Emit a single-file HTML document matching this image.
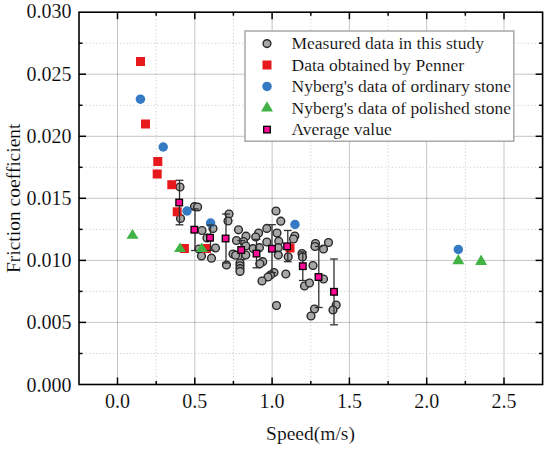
<!DOCTYPE html><html><head><meta charset="utf-8"><style>html,body{margin:0;padding:0;background:#fff;}svg{display:block;}text{font-family:"Liberation Serif",serif;stroke:#fff;stroke-width:0.15px;}</style></head><body>
<svg width="550" height="450" viewBox="0 0 550 450">
<rect width="550" height="450" fill="#fff"/>
<line x1="117.5" y1="12.2" x2="117.5" y2="384.5" stroke="#000" stroke-opacity="0.23" stroke-width="1"/><line x1="194.8" y1="12.2" x2="194.8" y2="384.5" stroke="#000" stroke-opacity="0.23" stroke-width="1"/><line x1="272.1" y1="12.2" x2="272.1" y2="384.5" stroke="#000" stroke-opacity="0.23" stroke-width="1"/><line x1="349.4" y1="12.2" x2="349.4" y2="384.5" stroke="#000" stroke-opacity="0.23" stroke-width="1"/><line x1="426.7" y1="12.2" x2="426.7" y2="384.5" stroke="#000" stroke-opacity="0.23" stroke-width="1"/><line x1="504.0" y1="12.2" x2="504.0" y2="384.5" stroke="#000" stroke-opacity="0.23" stroke-width="1"/><line x1="156.2" y1="12.2" x2="156.2" y2="384.5" stroke="#d0d0d0" stroke-width="1" stroke-dasharray="1.2 2.2"/><line x1="233.4" y1="12.2" x2="233.4" y2="384.5" stroke="#d0d0d0" stroke-width="1" stroke-dasharray="1.2 2.2"/><line x1="310.8" y1="12.2" x2="310.8" y2="384.5" stroke="#d0d0d0" stroke-width="1" stroke-dasharray="1.2 2.2"/><line x1="388.1" y1="12.2" x2="388.1" y2="384.5" stroke="#d0d0d0" stroke-width="1" stroke-dasharray="1.2 2.2"/><line x1="465.3" y1="12.2" x2="465.3" y2="384.5" stroke="#d0d0d0" stroke-width="1" stroke-dasharray="1.2 2.2"/><line x1="542.6" y1="12.2" x2="542.6" y2="384.5" stroke="#d0d0d0" stroke-width="1" stroke-dasharray="1.2 2.2"/><line x1="79.0" y1="322.4" x2="542.6" y2="322.4" stroke="#000" stroke-opacity="0.23" stroke-width="1"/><line x1="79.0" y1="260.4" x2="542.6" y2="260.4" stroke="#000" stroke-opacity="0.23" stroke-width="1"/><line x1="79.0" y1="198.3" x2="542.6" y2="198.3" stroke="#000" stroke-opacity="0.23" stroke-width="1"/><line x1="79.0" y1="136.3" x2="542.6" y2="136.3" stroke="#000" stroke-opacity="0.23" stroke-width="1"/><line x1="79.0" y1="74.2" x2="542.6" y2="74.2" stroke="#000" stroke-opacity="0.23" stroke-width="1"/><line x1="79.0" y1="353.5" x2="542.6" y2="353.5" stroke="#d0d0d0" stroke-width="1" stroke-dasharray="1.2 2.2"/><line x1="79.0" y1="291.4" x2="542.6" y2="291.4" stroke="#d0d0d0" stroke-width="1" stroke-dasharray="1.2 2.2"/><line x1="79.0" y1="229.4" x2="542.6" y2="229.4" stroke="#d0d0d0" stroke-width="1" stroke-dasharray="1.2 2.2"/><line x1="79.0" y1="167.3" x2="542.6" y2="167.3" stroke="#d0d0d0" stroke-width="1" stroke-dasharray="1.2 2.2"/><line x1="79.0" y1="105.3" x2="542.6" y2="105.3" stroke="#d0d0d0" stroke-width="1" stroke-dasharray="1.2 2.2"/><line x1="79.0" y1="43.2" x2="542.6" y2="43.2" stroke="#d0d0d0" stroke-width="1" stroke-dasharray="1.2 2.2"/>
<circle cx="180" cy="187" r="3.9" fill="#a6a6a6" stroke="#262626" stroke-width="1.4"/><circle cx="180.5" cy="218.5" r="3.9" fill="#a6a6a6" stroke="#262626" stroke-width="1.4"/><circle cx="194.5" cy="206.6" r="3.9" fill="#a6a6a6" stroke="#262626" stroke-width="1.4"/><circle cx="197.6" cy="207" r="3.9" fill="#a6a6a6" stroke="#262626" stroke-width="1.4"/><circle cx="202" cy="230.5" r="3.9" fill="#a6a6a6" stroke="#262626" stroke-width="1.4"/><circle cx="213" cy="228.5" r="3.9" fill="#a6a6a6" stroke="#262626" stroke-width="1.4"/><circle cx="207" cy="238" r="3.9" fill="#a6a6a6" stroke="#262626" stroke-width="1.4"/><circle cx="199" cy="249" r="3.9" fill="#a6a6a6" stroke="#262626" stroke-width="1.4"/><circle cx="201.5" cy="256" r="3.9" fill="#a6a6a6" stroke="#262626" stroke-width="1.4"/><circle cx="211.5" cy="258.2" r="3.9" fill="#a6a6a6" stroke="#262626" stroke-width="1.4"/><circle cx="215.5" cy="248" r="3.9" fill="#a6a6a6" stroke="#262626" stroke-width="1.4"/><circle cx="229" cy="214" r="3.9" fill="#a6a6a6" stroke="#262626" stroke-width="1.4"/><circle cx="228" cy="221" r="3.9" fill="#a6a6a6" stroke="#262626" stroke-width="1.4"/><circle cx="226.5" cy="265" r="3.9" fill="#a6a6a6" stroke="#262626" stroke-width="1.4"/><circle cx="238.5" cy="229.8" r="3.9" fill="#a6a6a6" stroke="#262626" stroke-width="1.4"/><circle cx="246" cy="236.2" r="3.9" fill="#a6a6a6" stroke="#262626" stroke-width="1.4"/><circle cx="236.5" cy="240.5" r="3.9" fill="#a6a6a6" stroke="#262626" stroke-width="1.4"/><circle cx="243.5" cy="241.5" r="3.9" fill="#a6a6a6" stroke="#262626" stroke-width="1.4"/><circle cx="245.8" cy="246" r="3.9" fill="#a6a6a6" stroke="#262626" stroke-width="1.4"/><circle cx="233" cy="254" r="3.9" fill="#a6a6a6" stroke="#262626" stroke-width="1.4"/><circle cx="235.6" cy="255.2" r="3.9" fill="#a6a6a6" stroke="#262626" stroke-width="1.4"/><circle cx="245.8" cy="255" r="3.9" fill="#a6a6a6" stroke="#262626" stroke-width="1.4"/><circle cx="240" cy="263" r="3.9" fill="#a6a6a6" stroke="#262626" stroke-width="1.4"/><circle cx="240" cy="265.8" r="3.9" fill="#a6a6a6" stroke="#262626" stroke-width="1.4"/><circle cx="240" cy="268.6" r="3.9" fill="#a6a6a6" stroke="#262626" stroke-width="1.4"/><circle cx="240" cy="271.4" r="3.9" fill="#a6a6a6" stroke="#262626" stroke-width="1.4"/><circle cx="258.6" cy="233" r="3.9" fill="#a6a6a6" stroke="#262626" stroke-width="1.4"/><circle cx="255.7" cy="237" r="3.9" fill="#a6a6a6" stroke="#262626" stroke-width="1.4"/><circle cx="253.2" cy="248.6" r="3.9" fill="#a6a6a6" stroke="#262626" stroke-width="1.4"/><circle cx="259.4" cy="247.7" r="3.9" fill="#a6a6a6" stroke="#262626" stroke-width="1.4"/><circle cx="262.7" cy="261.7" r="3.9" fill="#a6a6a6" stroke="#262626" stroke-width="1.4"/><circle cx="259.8" cy="263.8" r="3.9" fill="#a6a6a6" stroke="#262626" stroke-width="1.4"/><circle cx="266.8" cy="228.4" r="3.9" fill="#a6a6a6" stroke="#262626" stroke-width="1.4"/><circle cx="266.8" cy="242" r="3.9" fill="#a6a6a6" stroke="#262626" stroke-width="1.4"/><circle cx="276" cy="211" r="3.9" fill="#a6a6a6" stroke="#262626" stroke-width="1.4"/><circle cx="280.8" cy="221.2" r="3.9" fill="#a6a6a6" stroke="#262626" stroke-width="1.4"/><circle cx="277" cy="233" r="3.9" fill="#a6a6a6" stroke="#262626" stroke-width="1.4"/><circle cx="278.7" cy="241.2" r="3.9" fill="#a6a6a6" stroke="#262626" stroke-width="1.4"/><circle cx="278.3" cy="247.7" r="3.9" fill="#a6a6a6" stroke="#262626" stroke-width="1.4"/><circle cx="278.3" cy="255.1" r="3.9" fill="#a6a6a6" stroke="#262626" stroke-width="1.4"/><circle cx="274" cy="272.5" r="3.9" fill="#a6a6a6" stroke="#262626" stroke-width="1.4"/><circle cx="270.5" cy="275" r="3.9" fill="#a6a6a6" stroke="#262626" stroke-width="1.4"/><circle cx="268" cy="277" r="3.9" fill="#a6a6a6" stroke="#262626" stroke-width="1.4"/><circle cx="262" cy="281" r="3.9" fill="#a6a6a6" stroke="#262626" stroke-width="1.4"/><circle cx="276.5" cy="305.5" r="3.9" fill="#a6a6a6" stroke="#262626" stroke-width="1.4"/><circle cx="294.8" cy="236" r="3.9" fill="#a6a6a6" stroke="#262626" stroke-width="1.4"/><circle cx="293.5" cy="239" r="3.9" fill="#a6a6a6" stroke="#262626" stroke-width="1.4"/><circle cx="288.2" cy="256.8" r="3.9" fill="#a6a6a6" stroke="#262626" stroke-width="1.4"/><circle cx="285.8" cy="274" r="3.9" fill="#a6a6a6" stroke="#262626" stroke-width="1.4"/><circle cx="302" cy="253.5" r="3.9" fill="#a6a6a6" stroke="#262626" stroke-width="1.4"/><circle cx="302.5" cy="257" r="3.9" fill="#a6a6a6" stroke="#262626" stroke-width="1.4"/><circle cx="315.5" cy="243.5" r="3.9" fill="#a6a6a6" stroke="#262626" stroke-width="1.4"/><circle cx="315" cy="246.5" r="3.9" fill="#a6a6a6" stroke="#262626" stroke-width="1.4"/><circle cx="313" cy="265.5" r="3.9" fill="#a6a6a6" stroke="#262626" stroke-width="1.4"/><circle cx="304.5" cy="286" r="3.9" fill="#a6a6a6" stroke="#262626" stroke-width="1.4"/><circle cx="309.5" cy="283" r="3.9" fill="#a6a6a6" stroke="#262626" stroke-width="1.4"/><circle cx="314.5" cy="309" r="3.9" fill="#a6a6a6" stroke="#262626" stroke-width="1.4"/><circle cx="311" cy="316" r="3.9" fill="#a6a6a6" stroke="#262626" stroke-width="1.4"/><circle cx="323.5" cy="249" r="3.9" fill="#a6a6a6" stroke="#262626" stroke-width="1.4"/><circle cx="328.5" cy="242.5" r="3.9" fill="#a6a6a6" stroke="#262626" stroke-width="1.4"/><circle cx="323.5" cy="279" r="3.9" fill="#a6a6a6" stroke="#262626" stroke-width="1.4"/><circle cx="336.2" cy="305" r="3.9" fill="#a6a6a6" stroke="#262626" stroke-width="1.4"/><circle cx="333" cy="310" r="3.9" fill="#a6a6a6" stroke="#262626" stroke-width="1.4"/><rect x="136.0" y="57.0" width="9" height="9" fill="#e8191d"/><rect x="141.0" y="119.5" width="9" height="9" fill="#e8191d"/><rect x="153.3" y="157.0" width="9" height="9" fill="#e8191d"/><rect x="152.7" y="169.5" width="9" height="9" fill="#e8191d"/><rect x="167.3" y="180.2" width="9" height="9" fill="#e8191d"/><rect x="172.7" y="207.3" width="9" height="9" fill="#e8191d"/><rect x="179.9" y="244.0" width="9" height="9" fill="#e8191d"/><rect x="202.0" y="244.0" width="9" height="9" fill="#e8191d"/><rect x="285.5" y="243.5" width="9" height="9" fill="#e8191d"/><circle cx="140.4" cy="99.2" r="4.75" fill="#357bc4"/><circle cx="163.2" cy="147" r="4.75" fill="#357bc4"/><circle cx="187" cy="211" r="4.75" fill="#357bc4"/><circle cx="210.6" cy="223" r="4.75" fill="#357bc4"/><circle cx="295" cy="224.5" r="4.75" fill="#357bc4"/><circle cx="458.3" cy="249.5" r="4.75" fill="#357bc4"/><line x1="179.5" y1="180.3" x2="179.5" y2="224.8" stroke="#303030" stroke-width="1.3"/><line x1="175.6" y1="180.3" x2="183.4" y2="180.3" stroke="#303030" stroke-width="1.3"/><line x1="175.6" y1="224.8" x2="183.4" y2="224.8" stroke="#303030" stroke-width="1.3"/><line x1="195" y1="208.9" x2="195" y2="250.5" stroke="#303030" stroke-width="1.3"/><line x1="191.1" y1="208.9" x2="198.9" y2="208.9" stroke="#303030" stroke-width="1.3"/><line x1="191.1" y1="250.5" x2="198.9" y2="250.5" stroke="#303030" stroke-width="1.3"/><line x1="210.5" y1="225" x2="210.5" y2="250.4" stroke="#303030" stroke-width="1.3"/><line x1="206.6" y1="225" x2="214.4" y2="225" stroke="#303030" stroke-width="1.3"/><line x1="206.6" y1="250.4" x2="214.4" y2="250.4" stroke="#303030" stroke-width="1.3"/><line x1="226" y1="214" x2="226" y2="263" stroke="#303030" stroke-width="1.3"/><line x1="222.1" y1="214" x2="229.9" y2="214" stroke="#303030" stroke-width="1.3"/><line x1="222.1" y1="263" x2="229.9" y2="263" stroke="#303030" stroke-width="1.3"/><line x1="241.2" y1="240.5" x2="241.2" y2="259.5" stroke="#303030" stroke-width="1.3"/><line x1="237.29999999999998" y1="240.5" x2="245.1" y2="240.5" stroke="#303030" stroke-width="1.3"/><line x1="237.29999999999998" y1="259.5" x2="245.1" y2="259.5" stroke="#303030" stroke-width="1.3"/><line x1="256.5" y1="239.4" x2="256.5" y2="267.8" stroke="#303030" stroke-width="1.3"/><line x1="252.6" y1="239.4" x2="260.4" y2="239.4" stroke="#303030" stroke-width="1.3"/><line x1="252.6" y1="267.8" x2="260.4" y2="267.8" stroke="#303030" stroke-width="1.3"/><line x1="272" y1="224.7" x2="272" y2="272.7" stroke="#303030" stroke-width="1.3"/><line x1="268.1" y1="224.7" x2="275.9" y2="224.7" stroke="#303030" stroke-width="1.3"/><line x1="268.1" y1="272.7" x2="275.9" y2="272.7" stroke="#303030" stroke-width="1.3"/><line x1="287.8" y1="230.5" x2="287.8" y2="261.7" stroke="#303030" stroke-width="1.3"/><line x1="283.90000000000003" y1="230.5" x2="291.7" y2="230.5" stroke="#303030" stroke-width="1.3"/><line x1="283.90000000000003" y1="261.7" x2="291.7" y2="261.7" stroke="#303030" stroke-width="1.3"/><line x1="302.8" y1="251.9" x2="302.8" y2="280.5" stroke="#303030" stroke-width="1.3"/><line x1="298.90000000000003" y1="251.9" x2="306.7" y2="251.9" stroke="#303030" stroke-width="1.3"/><line x1="298.90000000000003" y1="280.5" x2="306.7" y2="280.5" stroke="#303030" stroke-width="1.3"/><line x1="318.8" y1="246.5" x2="318.8" y2="307.5" stroke="#303030" stroke-width="1.3"/><line x1="314.90000000000003" y1="246.5" x2="322.7" y2="246.5" stroke="#303030" stroke-width="1.3"/><line x1="314.90000000000003" y1="307.5" x2="322.7" y2="307.5" stroke="#303030" stroke-width="1.3"/><line x1="334" y1="259" x2="334" y2="324.8" stroke="#303030" stroke-width="1.3"/><line x1="330.1" y1="259" x2="337.9" y2="259" stroke="#303030" stroke-width="1.3"/><line x1="330.1" y1="324.8" x2="337.9" y2="324.8" stroke="#303030" stroke-width="1.3"/><rect x="175.9" y="199.2" width="6.6" height="6.6" fill="#ff0a96" stroke="#000" stroke-width="1.3"/><rect x="191.0" y="226.4" width="6.6" height="6.6" fill="#ff0a96" stroke="#000" stroke-width="1.3"/><rect x="206.7" y="234.4" width="6.6" height="6.6" fill="#ff0a96" stroke="#000" stroke-width="1.3"/><rect x="222.3" y="235.2" width="6.6" height="6.6" fill="#ff0a96" stroke="#000" stroke-width="1.3"/><rect x="237.9" y="246.7" width="6.6" height="6.6" fill="#ff0a96" stroke="#000" stroke-width="1.3"/><rect x="253.2" y="250.3" width="6.6" height="6.6" fill="#ff0a96" stroke="#000" stroke-width="1.3"/><rect x="268.6" y="245.4" width="6.6" height="6.6" fill="#ff0a96" stroke="#000" stroke-width="1.3"/><rect x="283.8" y="243.0" width="6.6" height="6.6" fill="#ff0a96" stroke="#000" stroke-width="1.3"/><rect x="299.5" y="262.9" width="6.6" height="6.6" fill="#ff0a96" stroke="#000" stroke-width="1.3"/><rect x="315.2" y="273.7" width="6.6" height="6.6" fill="#ff0a96" stroke="#000" stroke-width="1.3"/><rect x="330.7" y="288.5" width="6.6" height="6.6" fill="#ff0a96" stroke="#000" stroke-width="1.3"/><path d="M126.5 238.8L132.5 229.0L138.5 238.8Z" fill="#42b244"/><path d="M174.0 252.0L180.0 242.5L186.0 252.0Z" fill="#42b244"/><path d="M195.8 252.0L201.8 242.5L207.8 252.0Z" fill="#42b244"/><path d="M452.3 264.2L458.3 254.0L464.3 264.2Z" fill="#42b244"/><path d="M475.1 265.0L481.1 254.5L487.1 265.0Z" fill="#42b244"/>
<rect x="79.0" y="12.2" width="463.6" height="372.3" fill="none" stroke="#000" stroke-width="1.6"/><line x1="117.5" y1="384.5" x2="117.5" y2="377.5" stroke="#000" stroke-width="1.5"/><line x1="117.5" y1="12.2" x2="117.5" y2="19.2" stroke="#000" stroke-width="1.5"/><line x1="194.8" y1="384.5" x2="194.8" y2="377.5" stroke="#000" stroke-width="1.5"/><line x1="194.8" y1="12.2" x2="194.8" y2="19.2" stroke="#000" stroke-width="1.5"/><line x1="272.1" y1="384.5" x2="272.1" y2="377.5" stroke="#000" stroke-width="1.5"/><line x1="272.1" y1="12.2" x2="272.1" y2="19.2" stroke="#000" stroke-width="1.5"/><line x1="349.4" y1="384.5" x2="349.4" y2="377.5" stroke="#000" stroke-width="1.5"/><line x1="349.4" y1="12.2" x2="349.4" y2="19.2" stroke="#000" stroke-width="1.5"/><line x1="426.7" y1="384.5" x2="426.7" y2="377.5" stroke="#000" stroke-width="1.5"/><line x1="426.7" y1="12.2" x2="426.7" y2="19.2" stroke="#000" stroke-width="1.5"/><line x1="504.0" y1="384.5" x2="504.0" y2="377.5" stroke="#000" stroke-width="1.5"/><line x1="504.0" y1="12.2" x2="504.0" y2="19.2" stroke="#000" stroke-width="1.5"/><line x1="156.2" y1="384.5" x2="156.2" y2="381.0" stroke="#000" stroke-width="1.5"/><line x1="156.2" y1="12.2" x2="156.2" y2="15.7" stroke="#000" stroke-width="1.5"/><line x1="233.4" y1="384.5" x2="233.4" y2="381.0" stroke="#000" stroke-width="1.5"/><line x1="233.4" y1="12.2" x2="233.4" y2="15.7" stroke="#000" stroke-width="1.5"/><line x1="310.8" y1="384.5" x2="310.8" y2="381.0" stroke="#000" stroke-width="1.5"/><line x1="310.8" y1="12.2" x2="310.8" y2="15.7" stroke="#000" stroke-width="1.5"/><line x1="388.1" y1="384.5" x2="388.1" y2="381.0" stroke="#000" stroke-width="1.5"/><line x1="388.1" y1="12.2" x2="388.1" y2="15.7" stroke="#000" stroke-width="1.5"/><line x1="465.3" y1="384.5" x2="465.3" y2="381.0" stroke="#000" stroke-width="1.5"/><line x1="465.3" y1="12.2" x2="465.3" y2="15.7" stroke="#000" stroke-width="1.5"/><line x1="79.0" y1="322.4" x2="86.0" y2="322.4" stroke="#000" stroke-width="1.5"/><line x1="542.6" y1="322.4" x2="535.6" y2="322.4" stroke="#000" stroke-width="1.5"/><line x1="79.0" y1="260.4" x2="86.0" y2="260.4" stroke="#000" stroke-width="1.5"/><line x1="542.6" y1="260.4" x2="535.6" y2="260.4" stroke="#000" stroke-width="1.5"/><line x1="79.0" y1="198.3" x2="86.0" y2="198.3" stroke="#000" stroke-width="1.5"/><line x1="542.6" y1="198.3" x2="535.6" y2="198.3" stroke="#000" stroke-width="1.5"/><line x1="79.0" y1="136.3" x2="86.0" y2="136.3" stroke="#000" stroke-width="1.5"/><line x1="542.6" y1="136.3" x2="535.6" y2="136.3" stroke="#000" stroke-width="1.5"/><line x1="79.0" y1="74.2" x2="86.0" y2="74.2" stroke="#000" stroke-width="1.5"/><line x1="542.6" y1="74.2" x2="535.6" y2="74.2" stroke="#000" stroke-width="1.5"/><line x1="79.0" y1="353.5" x2="82.5" y2="353.5" stroke="#000" stroke-width="1.5"/><line x1="542.6" y1="353.5" x2="539.1" y2="353.5" stroke="#000" stroke-width="1.5"/><line x1="79.0" y1="291.4" x2="82.5" y2="291.4" stroke="#000" stroke-width="1.5"/><line x1="542.6" y1="291.4" x2="539.1" y2="291.4" stroke="#000" stroke-width="1.5"/><line x1="79.0" y1="229.4" x2="82.5" y2="229.4" stroke="#000" stroke-width="1.5"/><line x1="542.6" y1="229.4" x2="539.1" y2="229.4" stroke="#000" stroke-width="1.5"/><line x1="79.0" y1="167.3" x2="82.5" y2="167.3" stroke="#000" stroke-width="1.5"/><line x1="542.6" y1="167.3" x2="539.1" y2="167.3" stroke="#000" stroke-width="1.5"/><line x1="79.0" y1="105.3" x2="82.5" y2="105.3" stroke="#000" stroke-width="1.5"/><line x1="542.6" y1="105.3" x2="539.1" y2="105.3" stroke="#000" stroke-width="1.5"/><line x1="79.0" y1="43.2" x2="82.5" y2="43.2" stroke="#000" stroke-width="1.5"/><line x1="542.6" y1="43.2" x2="539.1" y2="43.2" stroke="#000" stroke-width="1.5"/>
<text x="71.4" y="391.6" font-size="20" text-anchor="end">0.000</text><text x="71.4" y="329.4" font-size="20" text-anchor="end">0.005</text><text x="71.4" y="267.2" font-size="20" text-anchor="end">0.010</text><text x="71.4" y="205.0" font-size="20" text-anchor="end">0.015</text><text x="71.4" y="142.8" font-size="20" text-anchor="end">0.020</text><text x="71.4" y="80.6" font-size="20" text-anchor="end">0.025</text><text x="71.4" y="18.4" font-size="20" text-anchor="end">0.030</text><text x="117.5" y="407.6" font-size="20" text-anchor="middle">0.0</text><text x="194.8" y="407.6" font-size="20" text-anchor="middle">0.5</text><text x="272.1" y="407.6" font-size="20" text-anchor="middle">1.0</text><text x="349.4" y="407.6" font-size="20" text-anchor="middle">1.5</text><text x="426.7" y="407.6" font-size="20" text-anchor="middle">2.0</text><text x="504.0" y="407.6" font-size="20" text-anchor="middle">2.5</text><text x="310.5" y="440" font-size="19.5" text-anchor="middle">Speed(m/s)</text><text transform="translate(19.5 198.3) rotate(-90)" x="0" y="0" font-size="19.5" text-anchor="middle">Friction coefficient</text>
<rect x="245" y="31" width="268.8" height="110.2" fill="#fff" stroke="#a2a2a2" stroke-width="1.4"/><text x="291.5" y="49.2" font-size="17.5">Measured data in this study</text><text x="291.5" y="70.9" font-size="17.5">Data obtained by Penner</text><text x="291.5" y="92.3" font-size="17.5">Nyberg&#39;s data of ordinary stone</text><text x="291.5" y="113.7" font-size="17.5">Nyberg&#39;s data of polished stone</text><text x="291.5" y="135.3" font-size="17.5">Average value</text>
<circle cx="267" cy="43.6" r="3.9" fill="#a6a6a6" stroke="#262626" stroke-width="1.4"/><rect x="262.5" y="60.5" width="9" height="9" fill="#e8191d"/><circle cx="267" cy="86.4" r="4.75" fill="#357bc4"/><path d="M261.0 111.5L267.0 101.3L273.0 111.5Z" fill="#42b244"/><rect x="263.7" y="126.3" width="6.6" height="6.6" fill="#ff0a96" stroke="#000" stroke-width="1.3"/>
</svg></body></html>
